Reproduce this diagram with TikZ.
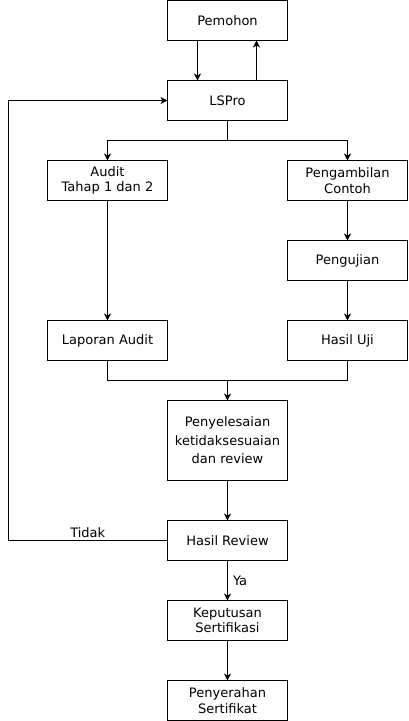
\documentclass[tikz,border=0pt]{standalone}
\usepackage{fontspec}
\setmainfont{DejaVu Sans}
\usetikzlibrary{positioning, arrows.meta, calc}

\begin{document}
\begin{tikzpicture}[
        x=1pt, y=1pt,
        node distance=40pt,
        >={Stealth[length=7pt, width=7pt, inset=2pt]},
        line width=1pt,
        box/.style={rectangle, draw, minimum width=120pt, minimum height=40pt, inner sep=0pt, outer sep=0pt, align=center, font=\fontsize{13}{15.5}\selectfont},
        tallbox/.style={box, minimum height=80pt, font=\fontsize{13}{18.5}\selectfont}
    ]
        \useasboundingbox (0,0) rectangle (408,721);

        \node[box] (pemohon) at (227.5,700.5) {Pemohon};
        \node[box, below=of pemohon] (lspro) {LSPro};
        \node[box] (audit) at (107.5,540.5) {Audit\\Tahap 1 dan 2};
        \node[box] (pengambilan) at (347.5,540.5) {Pengambilan\\Contoh};
        \node[box, below=of pengambilan] (pengujian) {Pengujian};
        \node[box, below=of pengujian] (hasiluji) {Hasil Uji};
        \node[box] (laporan) at (107.5,380.5) {Laporan Audit};
        \node[tallbox] (penyelesaian) at (227.5,280.5) {Penyelesaian\\ketidaksesuaian\\dan review};
        \node[box, below=of penyelesaian] (review) {Hasil Review};
        \node[box, below=of review] (keputusan) {Keputusan\\Sertifikasi};
        \node[box, below=of keputusan] (penyerahan) {Penyerahan\\Sertifikat};

        % Pemohon <-> LSPro
        \draw[->] ([xshift=-30pt]pemohon.south) -- ([xshift=-30pt]lspro.north);
        \draw[->] ([xshift=29pt]lspro.north) -- ([xshift=29pt]pemohon.south);

        % split to both branches
        \coordinate (split) at ([yshift=-20pt]lspro.south);
        \draw (lspro.south) -- (split);
        \draw[->] (split) -| (audit.north);
        \draw[->] (split) -| (pengambilan.north);
        \draw[->] (audit) -- (laporan);
        \draw[->] (pengambilan) -- (pengujian);
        \draw[->] (pengujian) -- (hasiluji);

        % join of both branches
        \coordinate (join) at ([yshift=20pt]penyelesaian.north);
        \draw (laporan.south) |- (join) -| (hasiluji.south);
        \draw[->] (join) -- (penyelesaian.north);
        \draw[->] (penyelesaian) -- (review);

        % decision
        \coordinate (loop) at (8,0);
        \draw[->] (review.west) -- node[above, inner sep=2pt, font=\fontsize{13}{15.5}\selectfont] {Tidak} (review.west -| loop) |- (lspro.west);
        \draw[->] (review) -- node[right, inner sep=5pt, font=\fontsize{13}{15.5}\selectfont] {Ya} (keputusan);
        \draw[->] (keputusan) -- (penyerahan);

    \end{tikzpicture}
\end{document}
